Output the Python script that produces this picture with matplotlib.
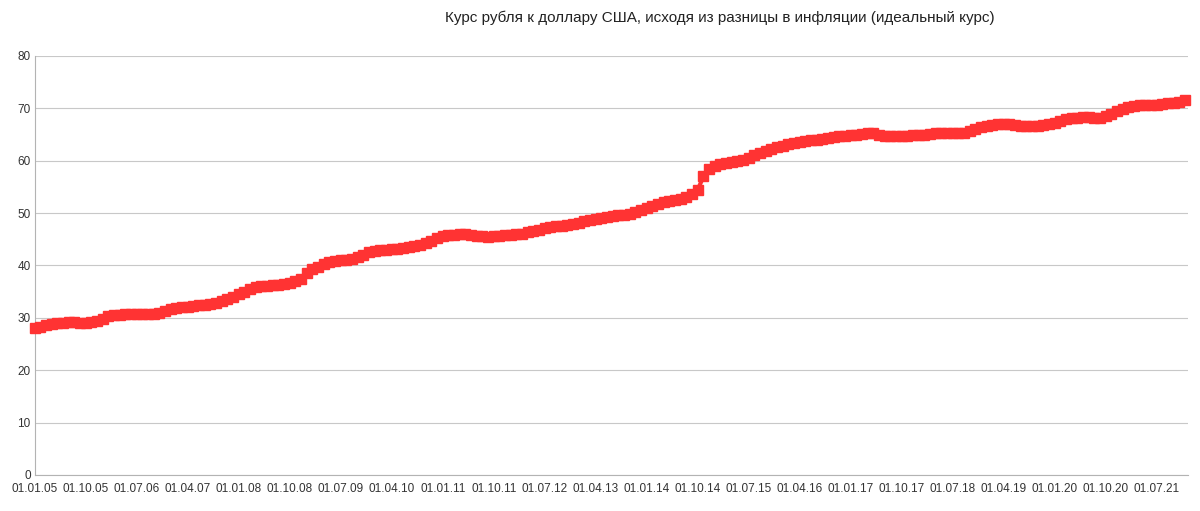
import matplotlib
matplotlib.use("Agg")
import matplotlib.pyplot as plt
plt.rcParams['font.family'] = ['Liberation Sans', 'DejaVu Sans']

title = "Курс рубля к доллару США, исходя из разницы в инфляции (идеальный курс)"
values = [
 28.0,28.3,28.6,28.8,29.0,29.1,29.2,29.2,29.1,29.1,29.2,29.4,
 29.8,30.3,30.5,30.6,30.7,30.8,30.8,30.8,30.8,30.8,30.9,31.4,
 31.7,31.8,32.0,32.1,32.3,32.5,32.5,32.6,32.8,33.2,33.6,34.0,
 34.5,35.0,35.5,35.8,36.0,36.1,36.2,36.3,36.5,36.7,37.0,37.5,
 38.5,39.3,39.8,40.3,40.6,40.8,41.0,41.1,41.3,41.6,42.0,42.5,
 42.7,42.9,43.0,43.1,43.2,43.3,43.5,43.8,44.0,44.3,44.7,45.3,
 45.6,45.8,45.9,46.0,46.0,45.9,45.7,45.6,45.5,45.6,45.7,45.8,
 45.9,46.0,46.1,46.3,46.5,46.8,47.2,47.4,47.5,47.6,47.7,47.9,
 48.1,48.4,48.6,48.8,49.0,49.2,49.5,49.6,49.7,49.9,50.2,50.6,
 51.0,51.4,51.8,52.1,52.3,52.5,52.6,53.0,53.6,54.5,57.0,58.5,
 59.0,59.3,59.5,59.7,60.0,60.2,60.6,61.0,61.4,61.8,62.2,62.6,
 62.9,63.2,63.4,63.6,63.8,63.9,64.0,64.2,64.4,64.6,64.7,64.8,
 64.9,65.0,65.1,65.2,65.2,65.0,64.8,64.7,64.7,64.7,64.8,64.9,
 65.0,65.0,65.1,65.2,65.3,65.3,65.2,65.2,65.3,65.6,66.0,66.5,
 66.7,66.9,67.0,67.0,67.0,66.9,66.7,66.6,66.6,66.7,66.8,67.0,
 67.2,67.6,67.9,68.1,68.2,68.3,68.3,68.2,68.2,68.5,69.0,69.5,
 69.9,70.2,70.5,70.6,70.6,70.6,70.7,70.8,71.0,71.1,71.3,71.5,
]
tick_labels = ["01.01.05","01.10.05","01.07.06","01.04.07","01.01.08","01.10.08",
 "01.07.09","01.04.10","01.01.11","01.10.11","01.07.12","01.04.13","01.01.14",
 "01.10.14","01.07.15","01.04.16","01.01.17","01.10.17","01.07.18","01.04.19",
 "01.01.20","01.10.20","01.07.21"]

x = list(range(len(values)))
fig = plt.figure(figsize=(12, 5.11), dpi=100)
ax = fig.add_axes([0.029, 0.0705, 0.961, 0.82])
ax.plot(x, values, color="#ff3333", lw=3, marker="s", ms=7, mec="#ff3333", clip_on=False, zorder=3)
ax.set_xlim(0, 203.5)
ax.set_ylim(0, 80)
ax.set_yticks(range(0, 81, 10))
ax.set_xticks(range(0, 9*len(tick_labels), 9))
ax.set_xticklabels(tick_labels)
ax.tick_params(axis="both", labelsize=8.5, colors="#333333", length=0, pad=6)
ax.tick_params(axis="y", pad=3)
ax.grid(axis="y", color="#c8c8c8", lw=0.8)
ax.set_axisbelow(True)
for s in ["top", "right"]:
    ax.spines[s].set_visible(False)
for s in ["left", "bottom"]:
    ax.spines[s].set_color("#b3b3b3")
fig.text(0.6, 0.965, title, ha="center", va="center", fontsize=11, color="#222222")
fig.savefig("out.png")
